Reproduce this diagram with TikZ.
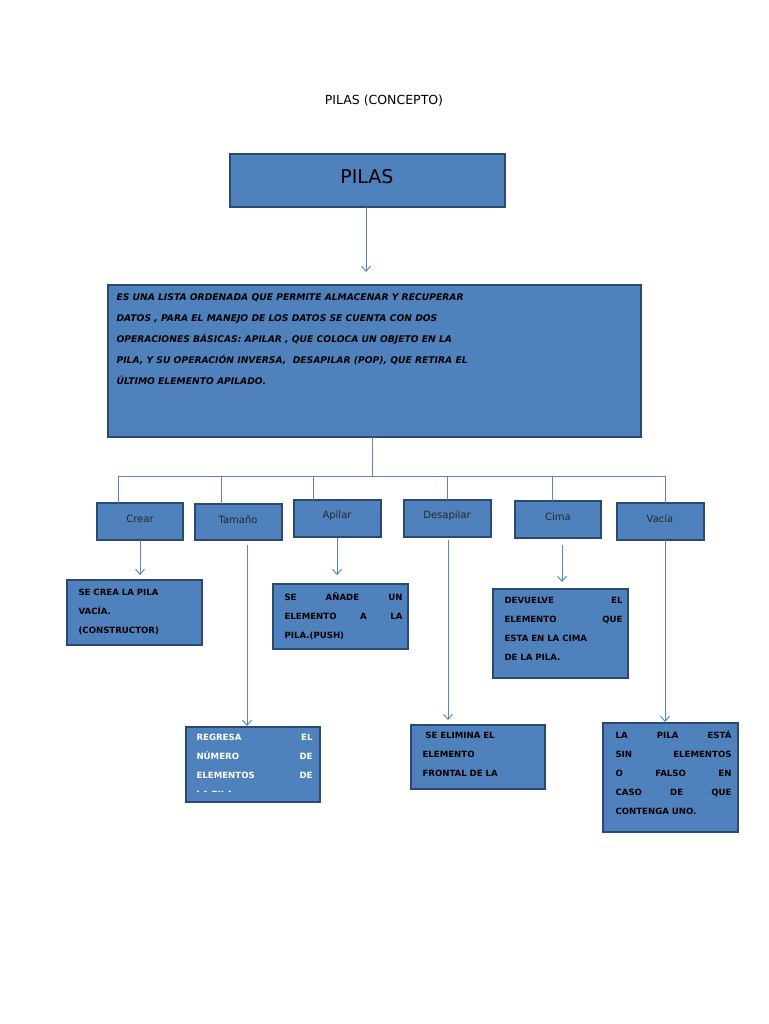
\documentclass[tikz,border=0pt]{standalone}
\usepackage{fontspec}
\setmainfont{DejaVu Sans}
\usetikzlibrary{arrows.meta}
\definecolor{fillb}{HTML}{4F81BD}
\definecolor{edgeb}{HTML}{2A4A73}
\definecolor{lineb}{HTML}{5B87C0}
\begin{document}
\begin{tikzpicture}[x=1pt,y=-1pt,
  box/.style={draw=edgeb,line width=2pt,fill=fillb},
  conn/.style={lineb,line width=0.9pt},
  arr/.style={conn,-{Straight Barb[length=5pt,width=9pt,line width=1pt]}},
  lbl/.style={font=\fontsize{10}{13}\selectfont,text=black!85},
  res/.style={font=\fontsize{8.6}{19}\selectfont\bfseries,anchor=north west,align=left}]
\useasboundingbox (0,0) rectangle (768,1024);
\node[font=\fontsize{12.5}{15}\selectfont] (title) at (384,101) {PILAS (CONCEPTO)};
\draw[box] (230,154) rectangle (505,207);
\node[font=\fontsize{19}{22}\selectfont] (pilas) at (367,177) {PILAS};
\coordinate (p1) at (366,207);
\coordinate (p2) at (366,272);
\draw[arr] (p1) -- (p2);
\draw[box] (108,285) rectangle (641,437);
\node[anchor=north west,align=left,font=\fontsize{9.2}{21}\selectfont\bfseries\itshape] (desc) at (113,290)
 {ES UNA LISTA ORDENADA QUE PERMITE ALMACENAR Y RECUPERAR\\
  DATOS , PARA EL MANEJO DE LOS DATOS SE CUENTA CON DOS\\
  OPERACIONES BÁSICAS: APILAR , QUE COLOCA UN OBJETO EN LA\\
  PILA, Y SU OPERACIÓN INVERSA,\ \ DESAPILAR (POP), QUE RETIRA EL\\
  ÚLTIMO ELEMENTO APILADO.};
\coordinate (t0) at (372,437);
\coordinate (t1) at (372,476);
\draw[conn] (t0) -- (t1);
\draw[conn] (118,476) -- (665,476);
% small boxes
\draw[box] (97,503) rectangle (183,540); \node[lbl] (crear) at (140,519) {Crear};
\draw[box] (195,504) rectangle (282,540); \node[lbl] (tam) at (238,520) {Tamaño};
\draw[box] (294,500) rectangle (381,537); \node[lbl] (apilar) at (337,516) {Apilar};
\draw[box] (404,500) rectangle (491,537); \node[lbl] (desap) at (447,516) {Desapilar};
\draw[box] (515,501) rectangle (601,538); \node[lbl] (cima) at (558,517) {Cima};
\draw[box] (617,503) rectangle (704,540); \node[lbl] (vacia) at (660,519) {Vacía};
\foreach \x/\y in {118/503,221/504,313/500,447/500,552/501,665/503}
  \draw[conn] (\x,476) -- (\x,\y);
% results
\draw[box] (67,580) rectangle (202,645);
\node[res,text width=118pt] (r1) at (75,586) {SE CREA LA PILA\\VACÍA.\\(CONSTRUCTOR)};
\draw[arr] (140,540) -- (140,575);
\draw[box] (273,584) rectangle (408,649);
\node[res,text width=118pt] (r2) at (281,589) {SE\hfill AÑADE\hfill UN\\ELEMENTO\hfill A\hfill LA\\PILA.(PUSH)};
\draw[arr] (337,538) -- (337,575);
\draw[box] (493,589) rectangle (628,678);
\node[res,text width=118pt] (r3) at (501,594) {DEVUELVE\hfill EL\\ELEMENTO\hfill QUE\\ESTA EN LA CIMA\\DE LA PILA.};
\draw[arr] (562,545) -- (562,582);
\draw[box] (186,727) rectangle (320,802);
\begin{scope}
\clip (188,729) rectangle (318,791);
\node[res,text width=116pt,text=white] (r4) at (193,731) {REGRESA\hfill EL\\NÚMERO\hfill DE\\ELEMENTOS\hfill DE\\LA PILA};
\end{scope}
\draw[arr] (247,545) -- (247,726);
\draw[box] (411,725) rectangle (545,789);
\node[res,text width=118pt] (r5) at (419,729) {\ SE ELIMINA EL\\ELEMENTO\\FRONTAL DE LA};
\draw[arr] (448,540) -- (448,720);
\draw[box] (603,723) rectangle (738,832);
\node[res,text width=116pt] (r6) at (612,727) {LA\hfill PILA\hfill ESTÁ\\SIN\hfill ELEMENTOS\\O\hfill FALSO\hfill EN\\CASO\hfill DE\hfill QUE\\CONTENGA UNO.};
\draw[arr] (665,540) -- (665,722);
\end{tikzpicture}
\end{document}
